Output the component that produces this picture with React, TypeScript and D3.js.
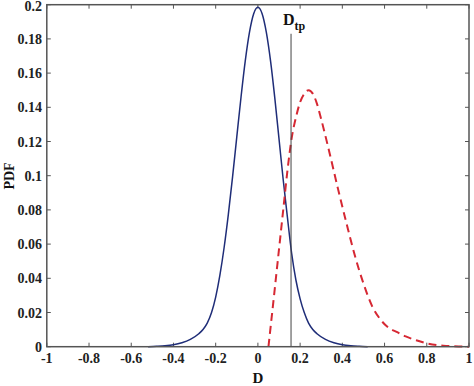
import React from "react";
import * as d3 from "d3";

const blueD = [-0.52, -0.48, -0.44, -0.40, -0.36, -0.32, -0.28, -0.26, -0.24, -0.22, -0.20, -0.18, -0.16, -0.14, -0.12, -0.10, -0.08, -0.06, -0.04, -0.02, 0, 0.02, 0.04, 0.06, 0.08, 0.10, 0.12, 0.14, 0.16, 0.18, 0.20, 0.22, 0.24, 0.26, 0.28, 0.32, 0.36, 0.40, 0.44, 0.48, 0.52];
const bluePDF = [0, 0.0002, 0.0005, 0.0011, 0.0023, 0.0043, 0.0076, 0.0101, 0.0138, 0.0198, 0.029, 0.0418, 0.058, 0.0774, 0.0993, 0.1227, 0.1459, 0.167, 0.1838, 0.1947, 0.1985, 0.1947, 0.1838, 0.167, 0.1455, 0.1215, 0.0975, 0.0755, 0.0545, 0.039, 0.028, 0.0198, 0.0138, 0.0101, 0.0076, 0.0043, 0.0023, 0.0011, 0.0005, 0.0002, 0];

const redD = [0.05, 0.08, 0.10, 0.12, 0.14, 0.16, 0.18, 0.20, 0.22, 0.24, 0.26, 0.28, 0.30, 0.34, 0.38, 0.42, 0.46, 0.50, 0.54, 0.58, 0.62, 0.66, 0.70, 0.75, 0.80, 0.85, 0.90, 0.95, 1.0];
const redPDF = [0, 0.034, 0.057, 0.080, 0.103, 0.122, 0.134, 0.143, 0.148, 0.150, 0.148, 0.142, 0.133, 0.113, 0.092, 0.072, 0.053, 0.037, 0.024, 0.016, 0.011, 0.0085, 0.006, 0.0038, 0.002, 0.0009, 0.0004, 0.0001, 0];

const dtpValue = 0.157;
const dtpTop = 0.183;

const xTicks = [-1, -0.8, -0.6, -0.4, -0.2, 0, 0.2, 0.4, 0.6, 0.8, 1];
const yTicks = [0, 0.02, 0.04, 0.06, 0.08, 0.1, 0.12, 0.14, 0.16, 0.18, 0.2];

const W = 474;
const H = 386;
const left = 46.8;
const right = 469;
const top = 4.7;
const bottom = 346.7;

export default function App() {
  const x = d3.scaleLinear().domain([-1, 1]).range([left, right]);
  const y = d3.scaleLinear().domain([0, 0.2]).range([bottom, top]);
  const line = d3
    .line<[number, number]>()
    .x((d) => x(d[0]))
    .y((d) => y(d[1]))
    .curve(d3.curveMonotoneX);
  const blue = line(blueD.map((d, i) => [d, bluePDF[i]]) as [number, number][]) || "";
  const red = line(redD.map((d, i) => [d, redPDF[i]]) as [number, number][]) || "";
  const axisColor = "#555";
  const font = "'Liberation Serif', 'Times New Roman', serif";
  const fmt = (v: number) => String(+v.toFixed(2));
  return (
    <svg
      width={W}
      height={H}
      style={{ position: "absolute", left: 0, top: 0, background: "#fff" }}
      fontFamily={font}
    >
      <rect x={0} y={0} width={W} height={H} fill="#fff" />
      {xTicks.map((t) => (
        <g key={"xt" + t}>
          <line x1={x(t)} x2={x(t)} y1={bottom} y2={bottom - 4} stroke={axisColor} />
          <line x1={x(t)} x2={x(t)} y1={top} y2={top + 4} stroke={axisColor} />
          <text x={x(t)} y={363} textAnchor="middle" fontSize={14} fontWeight="bold" fill="#222">
            {fmt(t)}
          </text>
        </g>
      ))}
      {yTicks.map((t) => (
        <g key={"yt" + t}>
          <line x1={left} x2={left + 4} y1={y(t)} y2={y(t)} stroke={axisColor} />
          <line x1={right} x2={right - 4} y1={y(t)} y2={y(t)} stroke={axisColor} />
          <text
            x={42}
            y={t === 0.2 ? y(t) + 6 : y(t) + 5}
            textAnchor="end"
            fontSize={14}
            fontWeight="bold"
            fill="#222"
          >
            {fmt(t)}
          </text>
        </g>
      ))}
      <path d={blue} fill="none" stroke="#1f2d78" strokeWidth={1.5} />
      <path d={red} fill="none" stroke="#d62833" strokeWidth={2} strokeDasharray="8,5" />
      <line x1={x(dtpValue)} x2={x(dtpValue)} y1={y(dtpTop)} y2={y(0)} stroke="#444" strokeWidth={1} />
      <text x={283} y={25} fontSize={16} fontWeight="bold" fill="#111">
        D
        <tspan fontSize={12} dy={5}>tp</tspan>
      </text>
      <rect
        x={left}
        y={top}
        width={right - left}
        height={bottom - top}
        fill="none"
        stroke={axisColor}
        strokeWidth={1.5}
      />
      <text x={258} y={383} textAnchor="middle" fontSize={15} fontWeight="bold" fill="#111">
        D
      </text>
      <text
        transform={`translate(14,176) rotate(-90)`}
        textAnchor="middle"
        fontSize={14}
        fontWeight="bold"
        fill="#111"
      >
        PDF
      </text>
    </svg>
  );
}
